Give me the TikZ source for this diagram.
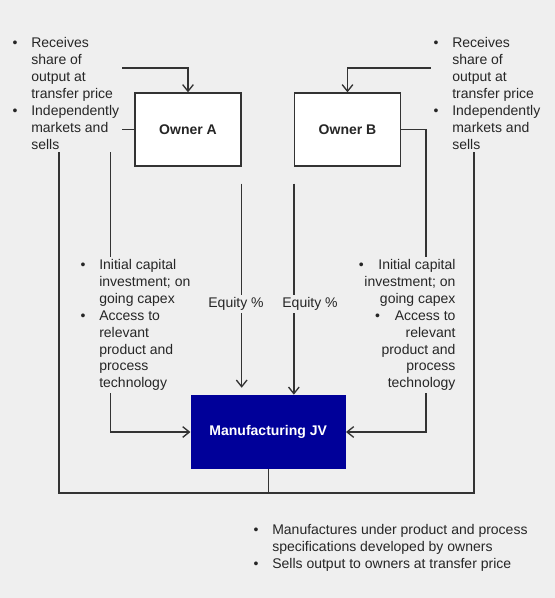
\documentclass[tikz,border=0pt]{standalone}
\usepackage{fontspec}
\setmainfont{Liberation Sans}
\usetikzlibrary{arrows.meta,calc}
\definecolor{bggray}{HTML}{EFEFEF}
\definecolor{linegray}{HTML}{333333}
\definecolor{txtgray}{HTML}{262626}
\definecolor{jvblue}{HTML}{000099}
\newcommand{\bul}{\makebox[14pt][l]{\textbullet}}
\newcommand{\ind}{\hspace*{14pt}}
\newcommand{\rbul}{\textbullet\hspace{11pt}}

\begin{document}
\begin{tikzpicture}[x=0.75pt,y=-0.75pt,
  >={Straight Barb[length=5pt,width=8pt]},
  every node/.style={font=\fontsize{10.5}{12.65}\selectfont, text=txtgray},
  owner/.style={draw=linegray, line width=1pt, fill=white,
    minimum width=79.5pt, minimum height=54.75pt,
    font=\fontsize{10.5}{12.65}\selectfont\bfseries},
  jv/.style={fill=jvblue, minimum width=116.25pt, minimum height=55.5pt,
    text=white, font=\fontsize{10.5}{12.65}\selectfont\bfseries},
  note/.style={fill=bggray, inner sep=2pt},
  link/.style={draw=linegray, line width=1pt}]
\fill[bggray] (0,0) rectangle (555,598);
\useasboundingbox (0,0) rectangle (555,598);

\node[owner] (OwnerA) at (188,129.5) {Owner A};
\node[owner] (OwnerB) at (347.5,129.5) {Owner B};
\node[jv] (JV) at (268.2,432) {Manufacturing JV};

\coordinate (sideL) at (59,68);
\coordinate (sideR) at (474,68);
\coordinate (baseL) at (59,493);
\coordinate (baseR) at (474,493);

\draw[link,->] (JV.south) |- (baseL) -- (sideL) -| (OwnerA.north);
\draw[link,->] (JV.south) |- (baseR) -- (sideR) -| (OwnerB.north);
\draw[link,->] (OwnerA.west) -| ($(JV.west)+(-80,0)$) -- (JV.west);
\draw[link,->] (OwnerB.east) -| ($(JV.east)+(80,0)$) -- (JV.east);
\draw[link,->] ($(OwnerA.south east)+(0,17)$) -- ($(OwnerA.south east |- JV.north)+(0,-7)$);
\draw[link,->] ($(OwnerB.south west)+(0,17)$) -- (OwnerB.south west |- JV.north);

\node[note] (eqA) at (236,304) {Equity \%};
\node[note] (eqB) at (310,304) {Equity \%};

\node[note, align=left, anchor=north west] (noteA) at (9.7,34.8)
  {\bul Receives\\ \ind share of\\ \ind output at\\ \ind transfer price\\
   \bul Independently\\ \ind markets and\\ \ind sells};
\node[note, align=left, anchor=north west] (noteB) at (430.7,34.8)
  {\bul Receives\\ \ind share of\\ \ind output at\\ \ind transfer price\\
   \bul Independently\\ \ind markets and\\ \ind sells};
\node[note, align=left, anchor=north west] (inputA) at (77.7,256.6)
  {\bul Initial capital\\ \ind investment; on\\ \ind going capex\\
   \bul Access to\\ \ind relevant\\ \ind product and\\ \ind process\\ \ind technology};
\node[note, align=right, anchor=north east] (inputB) at (458.4,256.6)
  {\rbul Initial capital\\ investment; on\\ going capex\\
   \rbul Access to\\ relevant\\ product and\\ process\\ technology};
\node[note, align=left, anchor=north west] (noteJV) at (250.7,521.8)
  {\bul Manufactures under product and process\\
   \ind specifications developed by owners\\
   \bul Sells output to owners at transfer price};
\end{tikzpicture}
\end{document}
